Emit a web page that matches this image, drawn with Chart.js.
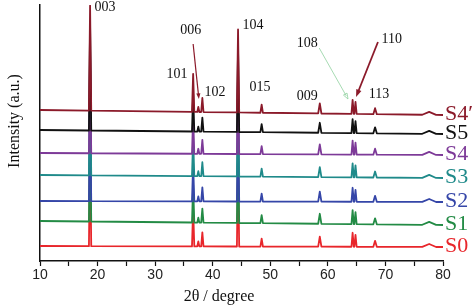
<!DOCTYPE html>
<html>
<head>
<meta charset="utf-8">
<script src="https://cdn.jsdelivr.net/npm/chart.js@4.4.1/dist/chart.umd.min.js"></script>
<style>
  html, body { margin: 0; padding: 0; background: #fff; }
  #wrap { width: 474px; height: 308px; }
</style>
</head>
<body>
<div id="wrap"><canvas id="xrd"></canvas></div>
<script>
// series, top to bottom (first one is drawn on top)
const seriesNames = ['S4\u2032', 'S5', 'S4', 'S3', 'S2', 'S1', 'S0']
const seriesColors = ['#8b1a2a', '#111111', '#7d3a98', '#1f8a8a', '#3546a8', '#238b45', '#e8262b']
// stacked background level (a.u.) at 10° and at 80°
const baseLeft = [151, 131, 108, 86, 60, 40, 15]
const baseRight = [146, 127, 106, 83, 59, 36, 14]

// reflections: position (2θ), height above background, half width at foot
const peakPos = [18.7, 36.6, 37.5, 38.2, 44.4, 48.5, 58.6, 64.3, 64.8, 68.2, 77.6]
const peakHeight = [105, 38, 5, 14, 83, 8, 10, 14, 12, 6, 3]
const peakHalfWidth = [0.2, 0.2, 0.18, 0.2, 0.2, 0.22, 0.28, 0.2, 0.2, 0.3, 1.2]

// hkl labels (centre, in data units)
const hklText = ['003', '101', '006', '102', '104', '015', '009', '108', '110', '113']
const hklX = [21.3, 33.8, 36.2, 40.4, 47.0, 48.2, 56.4, 56.4, 71.1, 68.9]
const hklY = [254, 187, 231, 169, 236, 174, 165, 218, 222, 167]

// arrows pointing at 006, 108, 110
const arrowFrom = [[36.6, 217], [58.5, 213], [68.7, 219]]
const arrowTo = [[37.6, 162], [63.5, 162], [64.9, 164]]
const arrowColor = ['#8b1a2a', '#8fd19e', '#8b1a2a']
const arrowWidth = [1.2, 0.8, 1.8]

const xTicks = [10, 20, 30, 40, 50, 60, 70, 80]

function baseAt(i, x) {
  return baseLeft[i] + (baseRight[i] - baseLeft[i]) * (x - 10) / 70
}

function buildSeries(i) {
  const pts = [{ x: 10, y: baseAt(i, 10) }]
  peakPos.forEach((p, k) => {
    const w = peakHalfWidth[k]
    pts.push({ x: p - w, y: baseAt(i, p - w) })
    pts.push({ x: p, y: baseAt(i, p) + peakHeight[k] })
    pts.push({ x: p + w, y: baseAt(i, p + w) })
  })
  pts.push({ x: 80, y: baseAt(i, 80) })
  return pts
}

const SERIF = "'Liberation Serif', 'Times New Roman', serif"
const SANS = "'Liberation Sans', Arial, sans-serif"

const decorations = {
  id: 'decorations',
  afterDatasetsDraw(chart) {
    const { ctx, scales: { x, y }, chartArea } = chart
    ctx.save()

    // hkl labels
    ctx.font = '14px ' + SERIF
    ctx.fillStyle = '#111'
    ctx.textAlign = 'center'
    ctx.textBaseline = 'middle'
    hklText.forEach((t, k) => {
      ctx.fillText(t, x.getPixelForValue(hklX[k]), y.getPixelForValue(hklY[k]))
    })

    // arrows
    arrowFrom.forEach((from, k) => {
      const x0 = x.getPixelForValue(from[0]), y0 = y.getPixelForValue(from[1])
      const x1 = x.getPixelForValue(arrowTo[k][0]), y1 = y.getPixelForValue(arrowTo[k][1])
      const a = Math.atan2(y1 - y0, x1 - x0)
      const head = k === 2 ? 8 : 6
      ctx.strokeStyle = arrowColor[k]
      ctx.fillStyle = arrowColor[k]
      ctx.lineWidth = arrowWidth[k]
      ctx.beginPath()
      ctx.moveTo(x0, y0)
      ctx.lineTo(x1 - Math.cos(a) * head * 0.6, y1 - Math.sin(a) * head * 0.6)
      ctx.stroke()
      ctx.beginPath()
      ctx.moveTo(x1, y1)
      ctx.lineTo(x1 - head * Math.cos(a - 0.35), y1 - head * Math.sin(a - 0.35))
      ctx.lineTo(x1 - head * Math.cos(a + 0.35), y1 - head * Math.sin(a + 0.35))
      ctx.closePath()
      if (k === 1) ctx.stroke(); else ctx.fill()
    })

    // series names at the right end
    ctx.font = '22px ' + SERIF
    ctx.textAlign = 'left'
    seriesNames.forEach((n, i) => {
      ctx.fillStyle = seriesColors[i]
      ctx.fillText(n, chartArea.right + 2, y.getPixelForValue(baseRight[i]) - 1)
    })

    // axis titles
    ctx.fillStyle = '#111'
    ctx.font = '16px ' + SERIF
    ctx.textAlign = 'center'
    ctx.fillText('2\u03b8 / degree', 219, 297)
    ctx.translate(15, 121)
    ctx.rotate(-Math.PI / 2)
    ctx.fillText('Intensity (a.u.)', 0, 0)

    ctx.restore()
  }
}

new Chart(document.getElementById('xrd'), {
  type: 'line',
  data: {
    datasets: seriesNames.map((n, i) => ({
      label: n,
      data: buildSeries(i),
      borderColor: seriesColors[i],
      borderWidth: 1.8,
      borderJoinStyle: 'round',
      pointRadius: 0,
      tension: 0,
      fill: false,
    })),
  },
  options: {
    responsive: true,
    maintainAspectRatio: false,
    animation: false,
    layout: { padding: { top: 5, right: 31, left: 0, bottom: 0 } },
    scales: {
      x: {
        type: 'linear',
        min: 10,
        max: 80,
        afterFit: (s) => { s.height = 47 },
        afterBuildTicks: (s) => {
          s.ticks = []
          for (let v = 10; v <= 80; v += 5) s.ticks.push({ value: v })
        },
        ticks: {
          padding: 1,
          color: '#222',
          font: { family: SANS, size: 14 },
          maxRotation: 0,
          autoSkip: false,
          callback: (v) => (xTicks.includes(v) ? String(v) : ''),
        },
        grid: { drawOnChartArea: false, drawTicks: true, tickLength: 5, tickColor: '#111', tickWidth: 1.2 },
        border: { color: '#111', width: 1.5 },
      },
      y: {
        min: 0,
        max: 256,
        afterFit: (s) => { s.width = 40 },
        ticks: { display: false },
        grid: { display: false },
        border: { color: '#111', width: 1.5 },
      },
    },
    plugins: {
      legend: { display: false },
      tooltip: { enabled: false },
    },
  },
  plugins: [decorations],
})
</script>
</body>
</html>
